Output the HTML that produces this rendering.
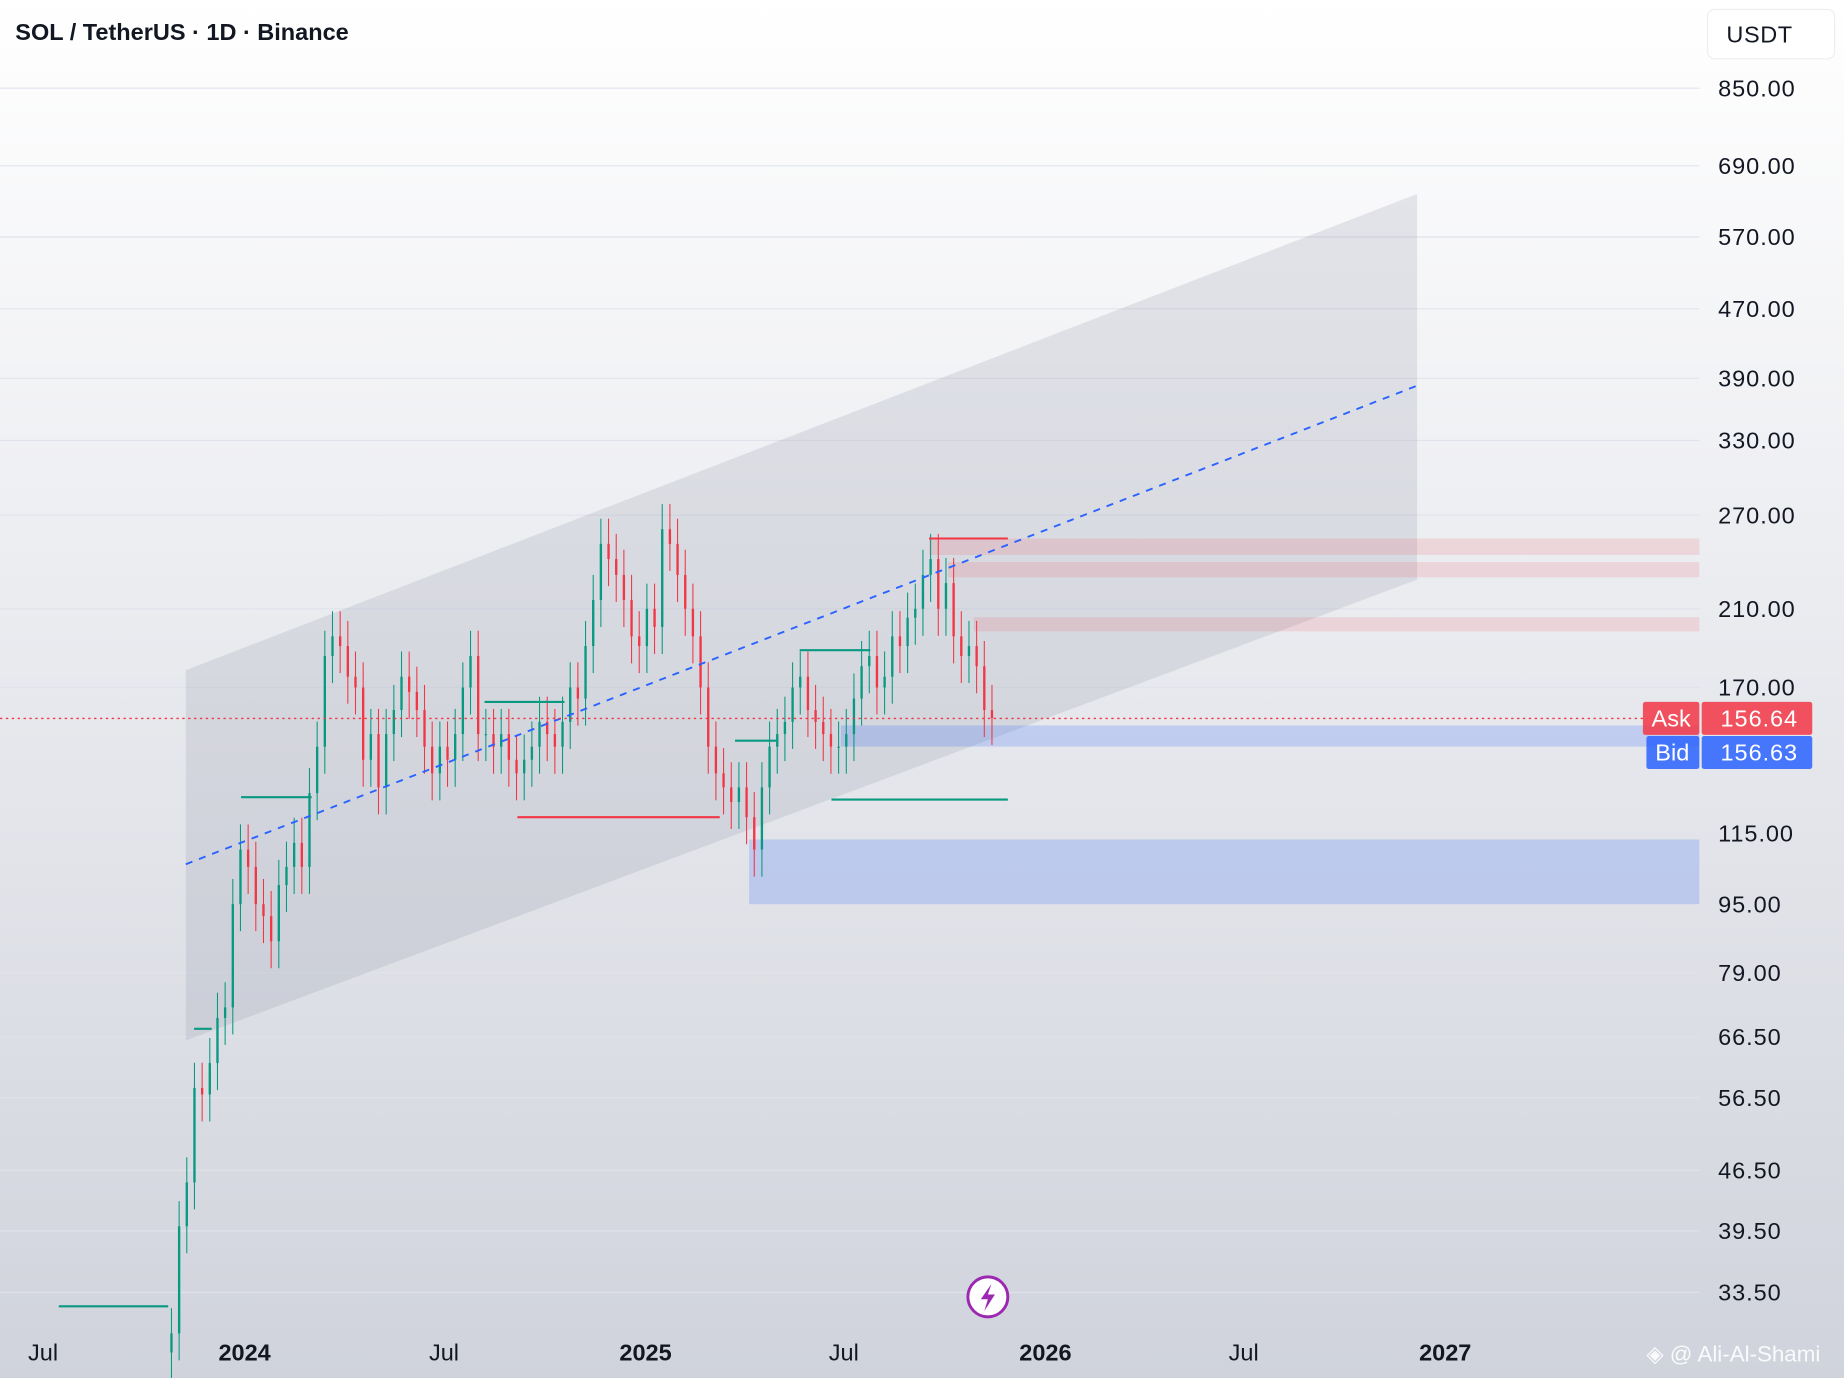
<!DOCTYPE html>
<html><head><meta charset="utf-8"><style>
html,body{margin:0;padding:0;width:1844px;height:1378px;overflow:hidden;background:#fff}
svg{display:block}
text{font-family:"Liberation Sans",sans-serif}
</style></head><body>
<svg id="chart" width="1844" height="1378" viewBox="0 0 1568 1172" preserveAspectRatio="none" xmlns="http://www.w3.org/2000/svg">
<defs><linearGradient id="bg" x1="0" y1="0" x2="0" y2="1"><stop offset="0" stop-color="#ffffff"/><stop offset="1" stop-color="#d0d3dc"/></linearGradient></defs>
<rect x="0" y="0" width="1568" height="1172" fill="url(#bg)"/>
<g id="grid"></g>
<polygon points="158,570 1205,165 1205,493 158,885" fill="rgba(140,145,165,0.2)"/>
<g id="zones"></g>
<g id="candles"></g>
<g id="levels"></g>
<line x1="158" y1="735" x2="1205" y2="328" stroke="#2962ff" stroke-width="1.6" stroke-dasharray="6,6"/>
<line x1="0" y1="611" x2="1397" y2="611" stroke="#f23645" stroke-width="1.2" stroke-dasharray="2,3"/>
<g id="yaxis"></g>
<g id="xaxis"></g>
<text x="13" y="34" font-size="20" font-weight="bold" fill="#131722">SOL / TetherUS · 1D · Binance</text>
<rect x="1452" y="8" width="108" height="42" rx="6" fill="#fff" stroke="#eceef2"/>
<text x="1468" y="36" font-size="20" fill="#131722" letter-spacing="0.5">USDT</text>
<g>
<rect x="1397" y="597" width="48" height="28" rx="2" fill="#f23645" opacity="0.85"/><text x="1421" y="618" font-size="20" fill="#fff" text-anchor="middle">Ask</text>
<rect x="1447" y="597" width="94" height="28" rx="2" fill="#f23645" opacity="0.85"/><text x="1496" y="618" font-size="20" fill="#fff" text-anchor="middle" letter-spacing="0.8">156.64</text></g>
<g>
<rect x="1400" y="626" width="45" height="28" rx="2" fill="#2962ff" opacity="0.85"/><text x="1422" y="647" font-size="20" fill="#fff" text-anchor="middle">Bid</text>
<rect x="1447" y="626" width="94" height="28" rx="2" fill="#2962ff" opacity="0.85"/><text x="1496" y="647" font-size="20" fill="#fff" text-anchor="middle" letter-spacing="0.8">156.63</text></g>
<g><circle cx="840" cy="1103" r="17" fill="#fff" stroke="#9c27b0" stroke-width="2.5"/><path d="M843,1092 L834,1105 L840,1105 L837,1115 L846,1101 L840,1101 Z" fill="#9c27b0"/></g>
<text x="1400" y="1158" font-size="19" fill="#ffffff" opacity="0.9">◈ @ Ali-Al-Shami</text>
</svg>
<script>
const tickValues=[850,690,570,470,390,330,270,210,170,115,95,79,66.5,56.5,46.5,39.5,33.5];
const xTickLabels=["Jul","2024","Jul","2025","Jul","2026","Jul","2027"];
const xTickDates=["2023-07-01","2024-01-01","2024-07-01","2025-01-01","2025-07-01","2026-01-01","2026-07-01","2027-01-01"];
const weekStart="2023-10-23";
const closes=[30,40,45,58,57,62,70,72,95,110,105,95,92,86,100,105,112,105,128,145,185,195,190,175,170,140,150,130,150,160,175,168,160,145,135,145,140,150,170,185,150,150,145,150,140,135,140,145,155,150,145,155,170,165,190,215,250,240,230,215,195,190,210,200,260,250,230,210,195,170,145,135,130,125,130,120,110,130,145,150,155,170,175,160,155,150,145,145,150,165,180,185,170,175,195,190,205,210,230,240,210,225,195,185,190,180,160,156.64];
const NS="http://www.w3.org/2000/svg";
function y(p){return 75+(Math.log(850)-Math.log(p))*316.7;}
const t0=Date.parse("2024-01-01");
function x(d){return 208+(Date.parse(d)-t0)/864e5*340/365;}
function el(tag,a,parent){const e=document.createElementNS(NS,tag);for(const k in a)e.setAttribute(k,a[k]);parent.appendChild(e);return e;}
const grid=document.getElementById('grid'),ya=document.getElementById('yaxis'),xa=document.getElementById('xaxis');
tickValues.forEach(v=>{
 const l=el('line',{x1:0,x2:1445,y1:y(v),y2:y(v),stroke:'#e0e3eb','stroke-width':1},grid);
 
 
 const t=el('text',{x:1461,y:y(v)+7,'font-size':20,fill:'#131722','letter-spacing':'0.8'},ya);
 t.textContent=v.toFixed(2);
 
 
});
xTickLabels.forEach((lab,i)=>{
 const t=el('text',{x:x(xTickDates[i]),y:1157,'font-size':20,fill:'#131722','text-anchor':'middle','font-weight':lab==='Jul'?'normal':'bold'},xa);
 t.textContent=lab;
 
 
});
const zones=document.getElementById('zones');
[[790,458,1445,472,'r'],[806,478,1445,491,'r'],[828,525,1445,537,'r'],[715,617,1445,635,'b'],[637,714,1445,769,'b']].forEach(z=>{
 const r=el('rect',{x:z[0],y:z[1],width:z[2]-z[0],height:z[3]-z[1],fill:z[4]==='r'?'rgba(242,54,69,0.13)':'rgba(41,98,255,0.2)'},zones);
 
 
});
const lv=document.getElementById('levels');
[[790,458,857,'#f23645'],[440,695,612,'#f23645'],[412,597,480,'#089981'],[680,553,740,'#089981'],[625,630,660,'#089981'],[707,680,857,'#089981'],[50,1111,143,'#089981'],[205,678,265,'#089981'],[165,875,180,'#089981']].forEach(s=>{
 const l=el('line',{x1:s[0],x2:s[2],y1:s[1],y2:s[1],stroke:s[3],'stroke-width':1.8},lv);
 
 
});
const cg=document.getElementById('candles');
const ws=Date.parse(weekStart);
closes.forEach((c,i)=>{
 const o=i===0?c*0.95:closes[i-1];
 const d=new Date(ws+i*7*864e5).toISOString().slice(0,10);
 const xx=x(d);
 const col=c>=o?'#089981':'#f23645';
 const hi=Math.max(o,c)*1.07,lo=Math.min(o,c)*0.93;
 const w=el('line',{x1:xx+3,x2:xx+3,y1:y(hi),y2:y(lo),stroke:col,'stroke-width':0.9},cg);
 
 
 const b=el('rect',{x:xx+2,y:Math.min(y(o),y(c)),width:2,height:Math.max(1,Math.abs(y(o)-y(c))),fill:col},cg);
 
 
});
</script>
</body></html>
